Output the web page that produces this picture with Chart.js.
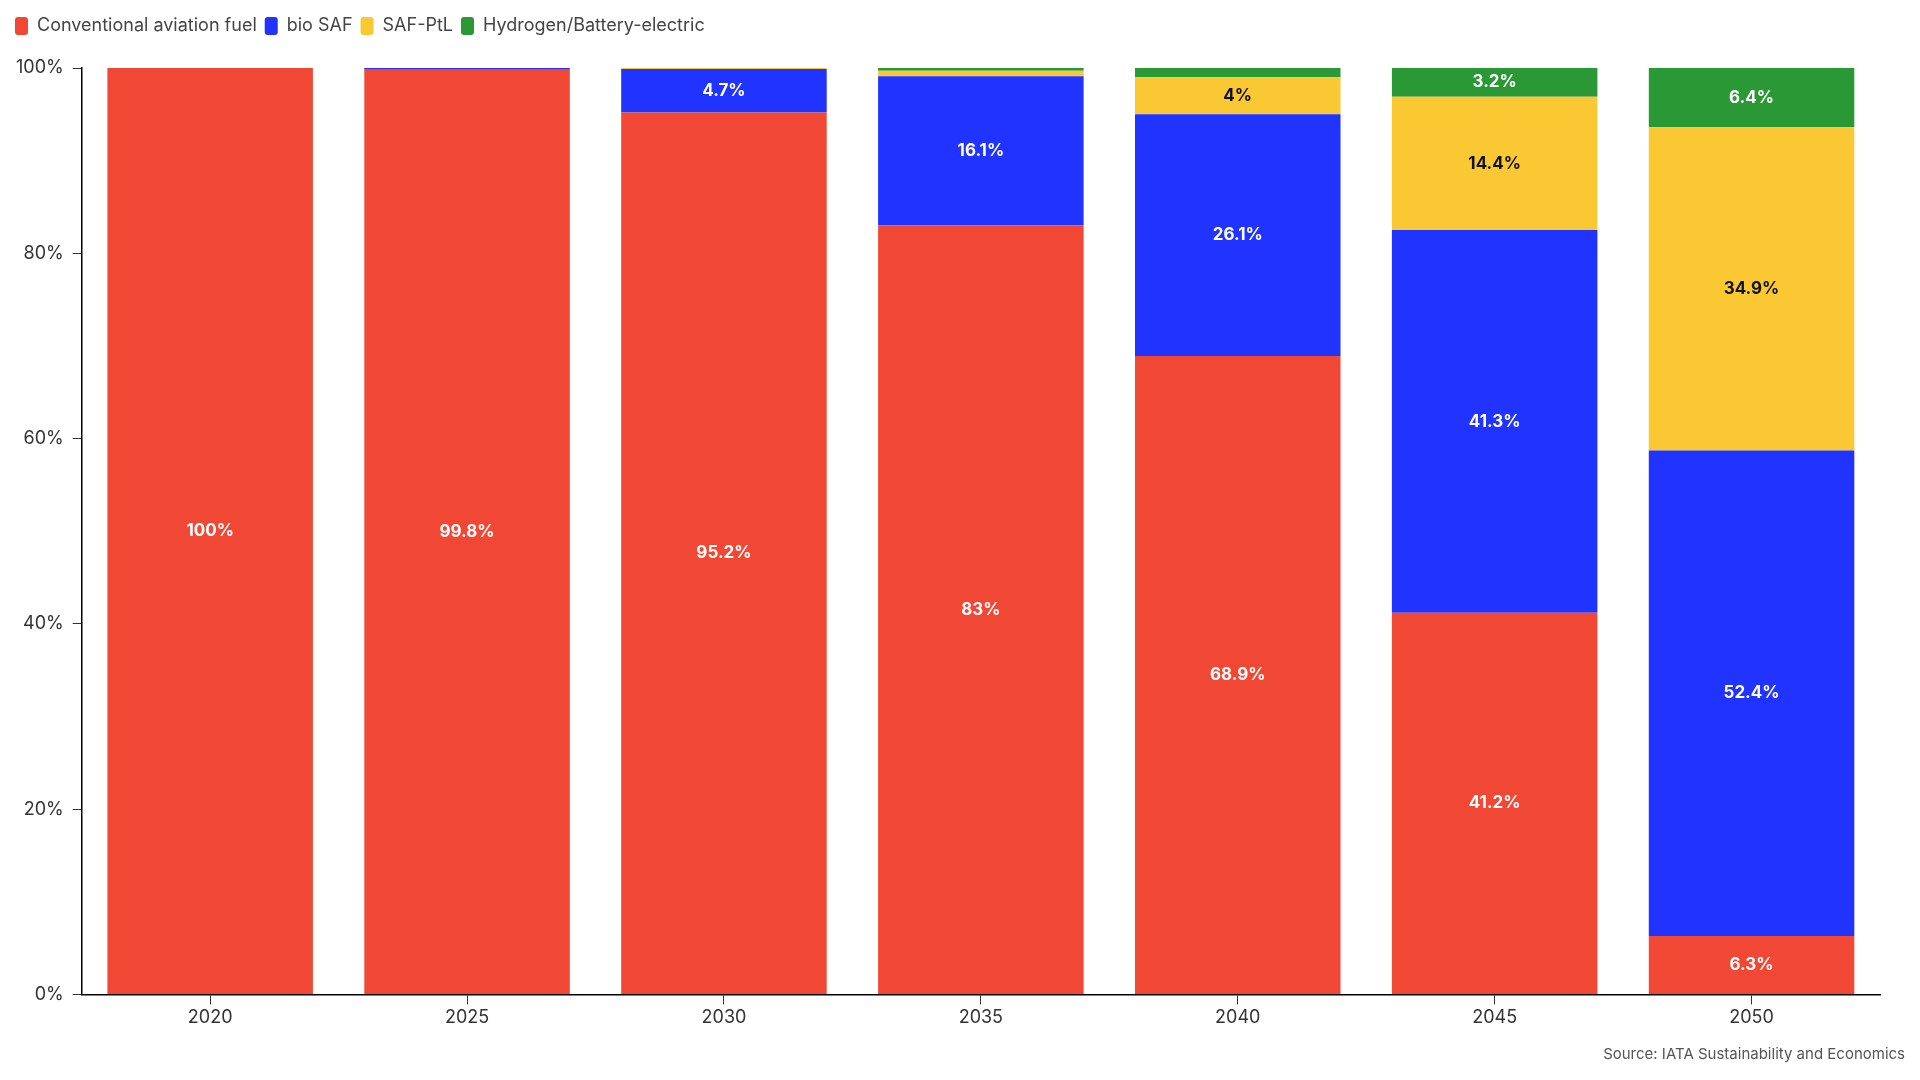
<!DOCTYPE html>
<html>
<head>
<meta charset="utf-8">
<script src="https://cdn.jsdelivr.net/npm/chart.js@4.4.1/dist/chart.umd.min.js"></script>
<style>
  html, body { margin: 0; padding: 0; background: #fff; }
  #wrap { width: 1920px; height: 1080px; }
</style>
</head>
<body>
<div id="wrap"><canvas id="fuelChart" width="1920" height="1080"></canvas></div>
<script>
const years = ["2020", "2025", "2030", "2035", "2040", "2045", "2050"];
const conventional = [100, 99.8, 95.2, 83, 68.9, 41.2, 6.3];
const bioSaf = [0, 0.2, 4.7, 16.1, 26.1, 41.3, 52.4];
const safPtl = [0, 0, 0.1, 0.6, 4, 14.4, 34.9];
const hydrogen = [0, 0, 0, 0.3, 1, 3.2, 6.4];
const yTicks = [0, 20, 40, 60, 80, 100];
const sourceText = "Source: IATA Sustainability and Economics";

const FONT = "Inter, 'Liberation Sans', sans-serif";

// draw the % labels in the middle of each segment
const segmentLabels = {
  id: "segmentLabels",
  afterDatasetsDraw(chart) {
    const ctx = chart.ctx;
    ctx.save();
    ctx.font = "bold 17px " + FONT;
    ctx.textAlign = "center";
    ctx.textBaseline = "middle";
    chart.data.datasets.forEach((ds, i) => {
      const meta = chart.getDatasetMeta(i);
      meta.data.forEach((bar, j) => {
        const v = ds.data[j];
        if (v < 3) return;
        ctx.fillStyle = ds.labelColor;
        ctx.fillText(v + "%", bar.x, (bar.y + bar.base) / 2);
      });
    });
    ctx.restore();
  }
};

// extra room under the legend + source note bottom right
const extras = {
  id: "extras",
  beforeInit(chart) {
    const fit = chart.legend.fit;
    chart.legend.fit = function () {
      fit.call(this);
      this.height += 23;
    };
  },
  afterDraw(chart) {
    const ctx = chart.ctx;
    ctx.save();
    ctx.font = "15px " + FONT;
    ctx.fillStyle = "#555";
    ctx.textAlign = "right";
    ctx.textBaseline = "middle";
    ctx.fillText(sourceText, chart.width - 15, 1054);
    ctx.restore();
  }
};

new Chart(document.getElementById("fuelChart").getContext("2d"), {
  type: "bar",
  data: {
    labels: years,
    datasets: [
      { label: "Conventional aviation fuel", data: conventional, backgroundColor: "#f04834", labelColor: "#ffffff" },
      { label: "bio SAF", data: bioSaf, backgroundColor: "#2133fe", labelColor: "#ffffff" },
      { label: "SAF-PtL", data: safPtl, backgroundColor: "#f9c833", labelColor: "#111111" },
      { label: "Hydrogen/Battery-electric", data: hydrogen, backgroundColor: "#2b9836", labelColor: "#ffffff" }
    ]
  },
  options: {
    responsive: false,
    devicePixelRatio: 1,
    animation: false,
    datasets: {
      bar: { categoryPercentage: 1, barPercentage: 0.8 }
    },
    layout: { padding: { left: 7, right: 40, top: 9, bottom: 50 } },
    plugins: {
      legend: {
        position: "top",
        align: "start",
        labels: {
          boxWidth: 13,
          boxHeight: 18,
          useBorderRadius: true,
          borderRadius: 3,
          padding: 8,
          color: "#444",
          font: { family: FONT, size: 18 }
        }
      },
      tooltip: { enabled: false }
    },
    scales: {
      x: {
        stacked: true,
        grid: { display: true, drawOnChartArea: false, drawTicks: true, tickLength: 10, offset: false, color: "#333" },
        border: { display: true, color: "#000", width: 1.5 },
        ticks: { color: "#333", font: { family: FONT, size: 18 }, padding: 2 }
      },
      y: {
        stacked: true,
        min: 0,
        max: 100,
        afterBuildTicks(axis) {
          axis.ticks = yTicks.map(v => ({ value: v }));
        },
        grid: { display: true, drawOnChartArea: false, drawTicks: true, tickLength: 9, color: "#333" },
        border: { display: true, color: "#000", width: 1.5 },
        ticks: {
          color: "#333",
          font: { family: FONT, size: 18 },
          padding: 9,
          callback: v => v + "%"
        }
      }
    }
  },
  plugins: [segmentLabels, extras]
});
</script>
</body>
</html>
